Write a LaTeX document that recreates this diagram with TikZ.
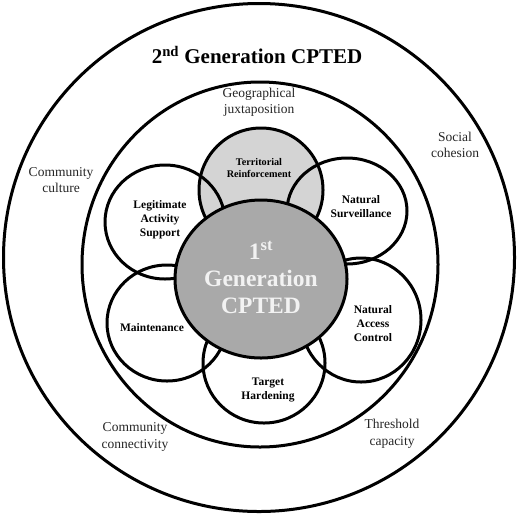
\documentclass[tikz,border=0pt]{standalone}
\usepackage{fontspec}
\setmainfont{Liberation Serif}
\definecolor{midgray}{HTML}{A9A9A9}
\definecolor{lightgray}{HTML}{D4D4D4}
\begin{document}
\begin{tikzpicture}[x=1pt,y=-1pt,line width=3pt,
  ring/.style={draw=black},
  lbl/.style={font=\fontsize{13.5}{16.5}\selectfont, align=center, text=black!85, inner sep=0pt},
  blbl/.style={font=\bfseries\fontsize{11.5}{14}\selectfont, align=center, inner sep=0pt},
  tlbl/.style={font=\bfseries\fontsize{10.2}{12.5}\selectfont, align=center, inner sep=0pt},
  core/.style={font=\bfseries\fontsize{23.5}{27}\selectfont, align=center, text=white!95!black, inner sep=0pt},
  title/.style={font=\bfseries\fontsize{21}{25}\selectfont, inner sep=0pt}]
\useasboundingbox (0,0) rectangle (518,515);
\fill[white] (0,0) rectangle (518,515);
% rings
\draw[ring] (259,257.5) ellipse [x radius=255.5, y radius=254];
\draw[ring] (260,264.5) ellipse [x radius=178, y radius=182.5];
% territorial fill
\fill[lightgray] (261,190) ellipse [x radius=62, y radius=62];
% satellites
\draw[ring] (261,190) ellipse [x radius=62, y radius=62];
\draw[ring] (347,211) ellipse [x radius=60, y radius=53];
\draw[ring] (165,222) ellipse [x radius=60, y radius=57];
\draw[ring] (167,323) ellipse [x radius=60, y radius=58];
\draw[ring] (361,320) ellipse [x radius=60, y radius=62];
\draw[ring] (264,363) ellipse [x radius=61, y radius=60];
% core
\filldraw[fill=midgray,draw=black] (261,279) ellipse [x radius=86, y radius=79];
% texts
\node[title] (t2) at (257,55) {2\textsuperscript{nd} Generation CPTED};
\node[lbl] (geo) at (259,102) {Geographical\\juxtaposition};
\node[lbl] (cc) at (61,180) {Community\\culture};
\node[lbl] (sc) at (455,145) {Social\\cohesion};
\node[lbl] (con) at (135,437) {Community\\connectivity};
\node[lbl] (thr) at (392,434) {Threshold\\capacity};
\node[tlbl] (ter) at (259,168) {Territorial\\Reinforcement};
\node[blbl] (sur) at (361,207) {Natural\\Surveillance};
\node[blbl] (leg) at (160,220) {Legitimate\\Activity\\Support};
\node[blbl] (mai) at (152,328) {Maintenance};
\node[blbl] (acc) at (373,324) {Natural\\Access\\Control};
\node[blbl] (tar) at (268,390) {Target\\Hardening};
\node[core] (first) at (261,277) {1\textsuperscript{st}\\Generation\\CPTED};
\end{tikzpicture}
\end{document}
